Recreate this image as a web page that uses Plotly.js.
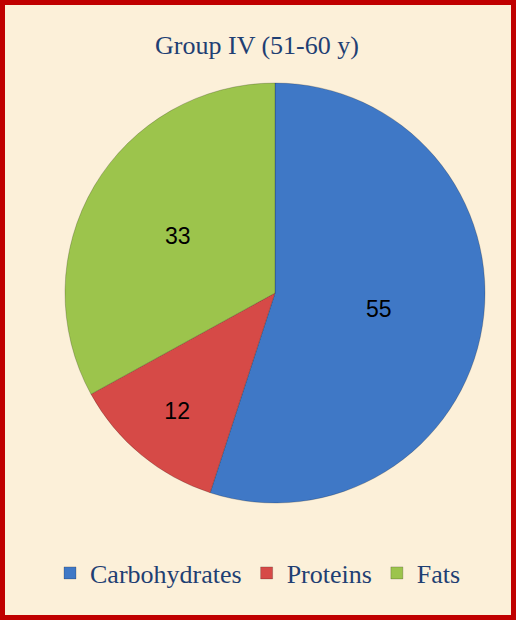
<!DOCTYPE html>
<html>
<head>
<meta charset="utf-8">
<script src="https://cdn.plot.ly/plotly-3.0.1.min.js"></script>
<style>
html,body{margin:0;padding:0;background:#fcf0d9;}
#chart{width:516px;height:620px;}
</style>
</head>
<body>
<div id="chart"></div>
<script>
const categories = ["Carbohydrates", "Proteins", "Fats"];
const values = [55, 12, 33];
const sliceColors = ["#3f78c6", "#d64a47", "#9cc44c"];
const chartTitle = "Group IV (51-60 y)";

const trace = {
  type: "pie",
  labels: categories,
  values: values,
  sort: false,
  direction: "clockwise",
  rotation: 0,
  marker: {colors: sliceColors, line: {color: "rgba(0,0,0,0.25)", width: 0.8}},
  textinfo: "value",
  textposition: "inside",
  insidetextorientation: "horizontal",
  textfont: {family: "Liberation Sans, Arial, sans-serif", size: 23, color: "#000000"},
  hoverinfo: "label+value",
  domain: {x: [65/516, 485/516], y: [1 - 503/620, 1 - 83/620]}
};

const layout = {
  width: 516,
  height: 620,
  margin: {l: 0, r: 0, t: 0, b: 0},
  paper_bgcolor: "#fcf0d9",
  plot_bgcolor: "#fcf0d9",
  title: {
    text: chartTitle,
    font: {family: "Liberation Serif, Times New Roman, serif", size: 26, color: "#1f3f73"},
    x: 257/516, xanchor: "center", xref: "paper",
    y: 1 - 45/620, yanchor: "middle", yref: "paper"
  },
  showlegend: true,
  legend: {
    orientation: "h",
    x: 0.5, xanchor: "center",
    y: 1 - 573/620, yanchor: "middle",
    font: {family: "Liberation Serif, Times New Roman, serif", size: 26, color: "#1f3f73"},
    bgcolor: "rgba(0,0,0,0)",
    itemclick: false
  },
  shapes: [{
    type: "rect", xref: "paper", yref: "paper",
    x0: 0, x1: 1, y0: 0, y1: 1,
    line: {color: "#c00000", width: 10},
    fillcolor: "rgba(0,0,0,0)"
  }]
};

Plotly.newPlot("chart", [trace], layout, {displayModeBar: false, staticPlot: true});
</script>
</body>
</html>
